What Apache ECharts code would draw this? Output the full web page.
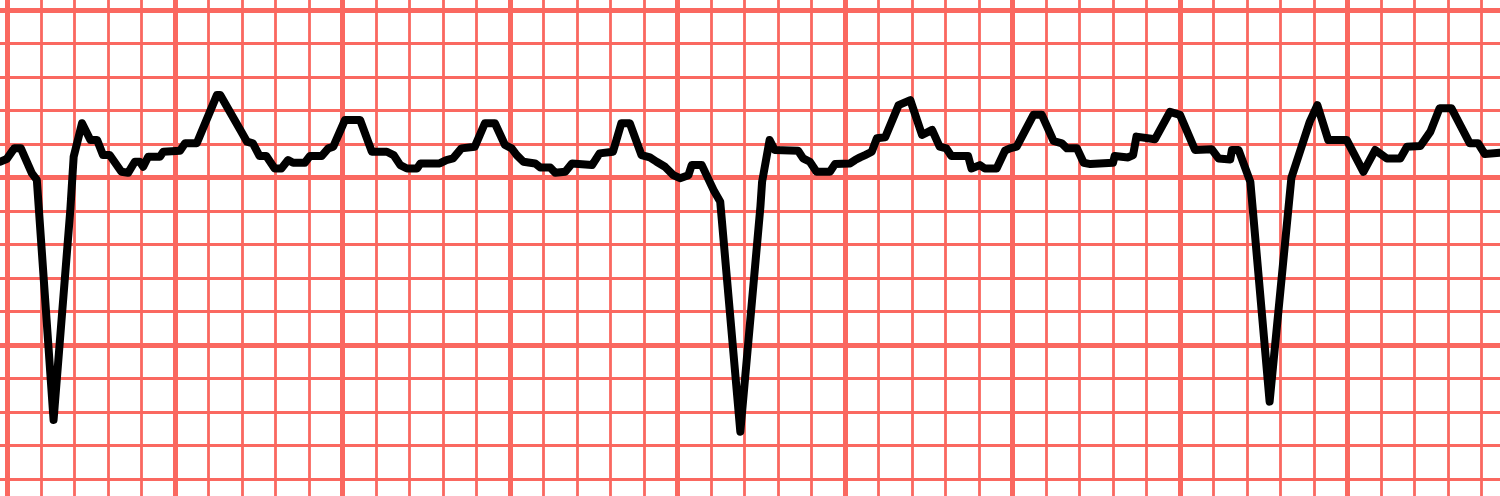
<!DOCTYPE html>
<html>
<head>
<meta charset="utf-8">
<script src="https://cdn.jsdelivr.net/npm/echarts@6/dist/echarts.min.js"></script>
<style>
html,body{margin:0;padding:0;background:#fff;}
#chart{width:1500px;height:496px;}
</style>
</head>
<body>
<div id="chart"></div>
<script>
// ECG trace: time in ms, amplitude in mV
var timeMs = [
  -9, -1, 8, 16, 29, 35, 55, 75, 79, 89, 99, 107, 114, 122, 136, 144, 152, 158, 162, 168,
  182, 186, 206, 212, 226, 250, 254, 278, 286, 293, 301, 309, 319, 327, 335, 341, 355, 361, 375, 383,
  389, 403, 421, 435, 453, 461, 469, 477, 489, 493, 516, 524, 532, 542, 558, 570, 582, 594, 602, 608,
  616, 630, 636, 648, 654, 666, 674, 698, 707, 723, 733, 743, 757, 767, 775, 785, 795, 803, 813, 817,
  829, 843, 851, 875, 899, 901, 910, 916, 944, 950, 958, 966, 982, 988, 1006, 1012, 1018, 1024, 1032, 1038,
  1048, 1064, 1078, 1092, 1104, 1113, 1121, 1127, 1147, 1151, 1161, 1167, 1181, 1191, 1197, 1205, 1225, 1235, 1249, 1259,
  1265, 1277, 1285, 1293, 1320, 1322, 1338, 1344, 1348, 1370, 1388, 1400, 1418, 1438, 1446, 1460, 1462, 1470, 1484, 1507,
  1533, 1555, 1564, 1577, 1599, 1619, 1633, 1647, 1663, 1671, 1687, 1699, 1710, 1724, 1746, 1756, 1764, 1782, 1790
];
var amplitudeMv = [
  0.047, 0.055, 0.087, 0.087, 0.013, -0.007, -0.724, -0.097, 0.062, 0.162, 0.112, 0.112, 0.067, 0.067, 0.017, 0.014, 0.047, 0.047, 0.032, 0.062,
  0.062, 0.077, 0.080, 0.102, 0.102, 0.246, 0.246, 0.142, 0.107, 0.102, 0.064, 0.064, 0.027, 0.027, 0.052, 0.044, 0.044, 0.064, 0.064, 0.087,
  0.092, 0.172, 0.172, 0.077, 0.077, 0.067, 0.037, 0.027, 0.027, 0.042, 0.042, 0.052, 0.057, 0.087, 0.092, 0.162, 0.162, 0.097, 0.087, 0.067,
  0.047, 0.042, 0.030, 0.030, 0.014, 0.017, 0.042, 0.037, 0.072, 0.077, 0.162, 0.162, 0.067, 0.060, 0.047, 0.032, 0.007, -0.002, 0.007, 0.037,
  0.037, -0.037, -0.072, -0.759, -0.087, -0.013, 0.112, 0.082, 0.080, 0.057, 0.047, 0.017, 0.017, 0.040, 0.042, 0.052, 0.060, 0.067, 0.077, 0.117,
  0.120, 0.216, 0.231, 0.127, 0.142, 0.092, 0.087, 0.064, 0.064, 0.027, 0.037, 0.027, 0.027, 0.080, 0.087, 0.092, 0.187, 0.187, 0.109, 0.102,
  0.087, 0.087, 0.044, 0.040, 0.044, 0.064, 0.060, 0.067, 0.122, 0.114, 0.196, 0.187, 0.082, 0.084, 0.057, 0.054, 0.082, 0.082, -0.013, -0.669,
  -0.001, 0.167, 0.216, 0.112, 0.112, 0.017, 0.082, 0.057, 0.057, 0.092, 0.094, 0.137, 0.207, 0.207, 0.102, 0.102, 0.070, 0.074, 0.074
];
// Paper grid: major box = 200 ms / 0.5 mV, 5 small boxes each
var timeRangeMs = [-200, 1800];
var voltRangeMv = [-1.0, 1.0];

var gridColor = '#fa6860';
var points = timeMs.map(function (t, i) { return [t, amplitudeMv[i]]; });

var chart = echarts.init(document.getElementById('chart'), null, {renderer: 'canvas'});
chart.setOption({
  backgroundColor: '#ffffff',
  animation: false,
  grid: {
    left: -160, right: -15, top: -157.5, bottom: -16.5,
    containLabel: false,
    outerBoundsMode: 'none'
  },
  xAxis: {
    type: 'value',
    min: timeRangeMs[0], max: timeRangeMs[1], interval: 200,
    axisLine: {show: false}, axisTick: {show: false}, axisLabel: {show: false},
    splitLine: {show: true, lineStyle: {color: gridColor, width: 5}},
    minorTick: {show: false, splitNumber: 5},
    minorSplitLine: {show: true, lineStyle: {color: gridColor, width: 2.8}}
  },
  yAxis: {
    type: 'value',
    min: voltRangeMv[0], max: voltRangeMv[1], interval: 0.5,
    axisLine: {show: false}, axisTick: {show: false}, axisLabel: {show: false},
    splitLine: {show: true, lineStyle: {color: gridColor, width: 5}},
    minorTick: {show: false, splitNumber: 5},
    minorSplitLine: {show: true, lineStyle: {color: gridColor, width: 2.8}}
  },
  series: [{
    type: 'line',
    data: points,
    showSymbol: false,
    symbol: 'none',
    clip: false,
    lineStyle: {color: '#000000', width: 8, join: 'round', cap: 'round'}
  }]
});
</script>
</body>
</html>
